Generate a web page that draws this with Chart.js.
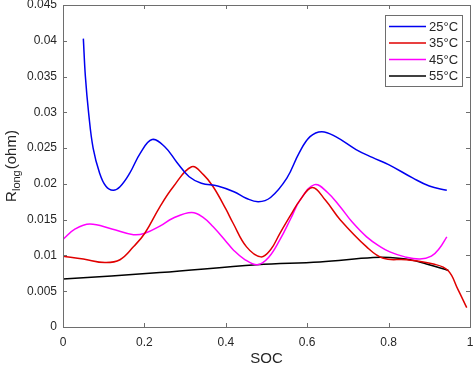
<!DOCTYPE html>
<html>
<head>
<meta charset="utf-8">
<script src="https://cdn.jsdelivr.net/npm/chart.js@4/dist/chart.umd.min.js"></script>
<style>
  html, body { margin: 0; padding: 0; background: #fff; }
  #wrap { width: 474px; height: 366px; }
</style>
</head>
<body>
<div id="wrap"><canvas id="chart"></canvas></div>
<script>
/* global Chart */

// Tick values
const xTicks = [0, 0.2, 0.4, 0.6, 0.8, 1];
const yTicks = [0, 0.005, 0.01, 0.015, 0.02, 0.025, 0.03, 0.035, 0.04, 0.045];

// Series labels and colors (MATLAB b / r / m / k)
const seriesLabels = ['25°C', '35°C', '45°C', '55°C'];
const seriesColors = ['#0000f0', '#e00000', '#ff00ff', '#000000'];

// 25°C
const soc25 = [0.05, 0.055, 0.063, 0.074, 0.09, 0.105, 0.123, 0.14, 0.164, 0.19, 0.219, 0.25, 0.28, 0.31, 0.34, 0.38, 0.42, 0.45, 0.48, 0.51, 0.55, 0.58, 0.607, 0.636, 0.67, 0.72, 0.76, 0.8, 0.86, 0.9, 0.943];
const r25   = [0.0403, 0.0350, 0.0299, 0.0250, 0.0215, 0.0197, 0.0191, 0.0196, 0.0215, 0.0243, 0.0262, 0.0252, 0.0230, 0.0210, 0.0201, 0.0197, 0.0189, 0.0180, 0.0175, 0.0181, 0.0208, 0.0243, 0.0266, 0.0273, 0.0266, 0.0248, 0.0237, 0.0227, 0.0208, 0.0197, 0.0191];

// 35°C
const soc35 = [0, 0.05, 0.103, 0.14, 0.173, 0.201, 0.238, 0.271, 0.316, 0.345, 0.369, 0.4, 0.418, 0.451, 0.486, 0.51, 0.533, 0.56, 0.582, 0.613, 0.645, 0.681, 0.746, 0.787, 0.844, 0.91, 0.946, 0.97, 0.992];
const r35   = [0.0099, 0.0095, 0.0090, 0.0094, 0.0112, 0.0131, 0.0168, 0.0196, 0.0224, 0.0213, 0.0196, 0.0165, 0.0145, 0.0112, 0.0098, 0.0108, 0.0131, 0.0157, 0.0177, 0.0195, 0.0177, 0.0150, 0.0112, 0.0096, 0.0094, 0.0088, 0.0079, 0.0053, 0.0027];

// 45°C
const soc45 = [0, 0.03, 0.066, 0.12, 0.173, 0.201, 0.238, 0.27, 0.316, 0.345, 0.369, 0.4, 0.418, 0.445, 0.478, 0.505, 0.533, 0.56, 0.582, 0.618, 0.65, 0.681, 0.71, 0.746, 0.78, 0.803, 0.84, 0.877, 0.905, 0.925, 0.943];
const r45   = [0.01225, 0.0137, 0.0144, 0.0137, 0.0129, 0.0131, 0.0141, 0.0152, 0.0160, 0.0153, 0.0140, 0.0120, 0.0108, 0.0095, 0.0087, 0.0097, 0.0122, 0.0152, 0.0177, 0.0199, 0.0188, 0.0168, 0.0147, 0.0126, 0.0112, 0.0105, 0.0098, 0.0095, 0.0099, 0.0110, 0.0126];

// 55°C
const soc55 = [0, 0.238, 0.476, 0.631, 0.762, 0.803, 0.853, 0.893, 0.947];
const r55   = [0.0067, 0.0076, 0.0087, 0.0091, 0.0097, 0.0097, 0.0094, 0.0088, 0.0079];

const FONT = 'Arial, "Liberation Sans", Helvetica, sans-serif';
const AXIS_COLOR = '#6e6e6e';
const TEXT_COLOR = '#262626';

function pts(xs, ys) {
  return xs.map((x, i) => ({ x, y: ys[i] }));
}

const seriesData = [pts(soc25, r25), pts(soc35, r35), pts(soc45, r45), pts(soc55, r55)];

/* Drop the automatic edge padding Chart.js reserves for tick labels */
function fixScale(s, size) {
  if (s.isHorizontal()) s.height = size; else s.width = size;
  s.paddingLeft = s.paddingRight = s.paddingTop = s.paddingBottom = 0;
}

/* Box around the axes with inward ticks on all four sides */
const matlabAxes = {
  id: 'matlabAxes',
  afterDatasetsDraw(chart) {
    const { ctx, chartArea: a, scales } = chart;
    const len = 4;
    ctx.save();
    ctx.strokeStyle = AXIS_COLOR;
    ctx.lineWidth = 1;
    ctx.beginPath();
    scales.x.ticks.forEach(t => {
      const px = Math.round(scales.x.getPixelForValue(t.value)) + 0.5;
      ctx.moveTo(px, a.bottom); ctx.lineTo(px, a.bottom - len);
      ctx.moveTo(px, a.top); ctx.lineTo(px, a.top + len);
    });
    scales.y.ticks.forEach(t => {
      const py = Math.round(scales.y.getPixelForValue(t.value)) + 0.5;
      ctx.moveTo(a.left, py); ctx.lineTo(a.left + len, py);
      ctx.moveTo(a.right, py); ctx.lineTo(a.right - len, py);
    });
    ctx.stroke();
    ctx.strokeRect(Math.round(a.left) + 0.5, Math.round(a.top) + 0.5,
      Math.round(a.right - a.left), Math.round(a.bottom - a.top));
    ctx.restore();
  }
};

/* Legend box in the upper right corner */
const boxLegend = {
  id: 'boxLegend',
  afterDraw(chart) {
    const { ctx, chartArea: a } = chart;
    const w = 77, h = 71;
    const left = a.right - 8 - w, top = a.top + 10;
    ctx.save();
    ctx.fillStyle = '#fff';
    ctx.fillRect(left, top, w, h);
    ctx.strokeStyle = AXIS_COLOR;
    ctx.lineWidth = 1;
    ctx.strokeRect(left + 0.5, top + 0.5, w, h);
    ctx.font = '13px ' + FONT;
    ctx.textBaseline = 'middle';
    ctx.textAlign = 'left';
    chart.data.datasets.forEach((ds, i) => {
      const y = top + 11.5 + i * 16.5;
      ctx.strokeStyle = ds.borderColor;
      ctx.lineWidth = 1.5;
      ctx.beginPath();
      ctx.moveTo(left + 4, y); ctx.lineTo(left + 41, y);
      ctx.stroke();
      ctx.fillStyle = TEXT_COLOR;
      ctx.fillText(ds.label, left + 44, y + 0.5);
    });
    ctx.restore();
  }
};

/* y-axis title with subscript: R_long (ohm) */
const yTitle = {
  id: 'yTitle',
  afterDraw(chart) {
    const { ctx, chartArea: a } = chart;
    const main = '15px ' + FONT, sub = '11px ' + FONT;
    ctx.save();
    ctx.font = main; const wR = ctx.measureText('R').width;
    const wO = ctx.measureText('(ohm)').width;
    ctx.font = sub; const wL = ctx.measureText('long').width;
    const total = wR + wL + 1 + wO;
    const cy = (a.top + a.bottom) / 2;
    ctx.translate(16, cy);
    ctx.rotate(-Math.PI / 2);
    ctx.fillStyle = TEXT_COLOR;
    ctx.textBaseline = 'alphabetic';
    let x = -total / 2;
    ctx.font = main; ctx.fillText('R', x, 0); x += wR;
    ctx.font = sub; ctx.fillText('long', x, 4); x += wL + 1;
    ctx.font = main; ctx.fillText('(ohm)', x, 0);
    ctx.restore();
  }
};

new Chart(document.getElementById('chart'), {
  type: 'line',
  data: {
    datasets: seriesData.map((d, i) => ({
      label: seriesLabels[i],
      data: d,
      borderColor: seriesColors[i],
      backgroundColor: seriesColors[i],
      borderWidth: 1.5,
      pointRadius: 0,
      fill: false,
      tension: 0.4,
    })),
  },
  options: {
    responsive: true,
    maintainAspectRatio: false,
    animation: false,
    layout: { padding: { top: 5, right: 4, left: 0, bottom: 0 } },
    plugins: { legend: { display: false }, tooltip: { enabled: false } },
    scales: {
      x: {
        type: 'linear',
        min: 0,
        max: 1,
        grid: { display: false, drawTicks: false },
        border: { display: false },
        afterBuildTicks: s => { s.ticks = xTicks.map(v => ({ value: v })); },
        afterFit: s => fixScale(s, 39),
        ticks: {
          padding: 8,
          color: TEXT_COLOR,
          font: { family: FONT, size: 12 },
          maxRotation: 0,
          callback: v => String(v),
        },
        title: {
          display: true,
          text: 'SOC',
          color: TEXT_COLOR,
          font: { family: FONT, size: 15 },
          padding: { top: 0, bottom: -2 },
        },
      },
      y: {
        type: 'linear',
        min: 0,
        max: 0.045,
        grid: { display: false, drawTicks: false },
        border: { display: false },
        afterBuildTicks: s => { s.ticks = yTicks.map(v => ({ value: v })); },
        afterFit: s => fixScale(s, 63),
        ticks: {
          padding: 6,
          color: TEXT_COLOR,
          font: { family: FONT, size: 12 },
          callback: v => String(v),
        },
      },
    },
  },
  plugins: [matlabAxes, boxLegend, yTitle],
});
</script>
</body>
</html>
